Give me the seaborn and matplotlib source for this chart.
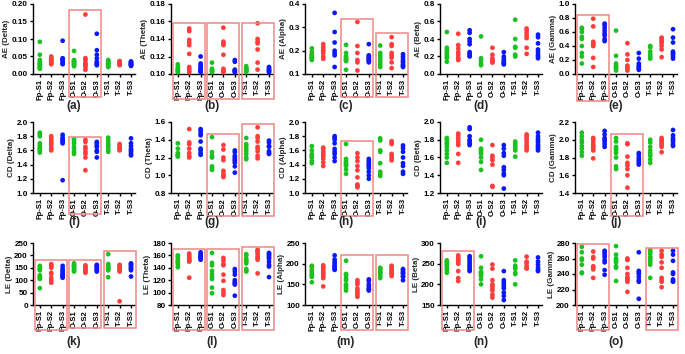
import numpy as np
import pandas as pd
import matplotlib.pyplot as plt
import matplotlib.transforms as mtransforms
from matplotlib.patches import Rectangle
import seaborn as sns

# categories and colours
cats = ['Fp-S1', 'Fp-S2', 'Fp-S3', 'O-S1', 'O-S2', 'O-S3', 'T-S1', 'T-S2', 'T-S3']
palette = ['#19c21f', '#ff3d3d', '#0b17ff'] * 3

# ---- row 1: AE ----
ae_delta = [
    [0.092, 0.055, 0.040, 0.035, 0.030, 0.028, 0.025, 0.020, 0.018, 0.015],
    [0.050, 0.045, 0.042, 0.040, 0.038, 0.035, 0.032, 0.030, 0.028],
    [0.095, 0.045, 0.042, 0.040, 0.035, 0.030, 0.028],
    [0.066, 0.040, 0.038, 0.035, 0.033, 0.030, 0.028, 0.025, 0.022],
    [0.170, 0.045, 0.040, 0.032, 0.028, 0.025, 0.020, 0.012],
    [0.115, 0.068, 0.055, 0.045, 0.035, 0.030, 0.028, 0.025],
    [0.040, 0.037, 0.035, 0.032, 0.030, 0.028, 0.025, 0.022, 0.020],
    [0.037, 0.035, 0.033, 0.030, 0.028, 0.027, 0.025],
    [0.036, 0.034, 0.032, 0.030, 0.028, 0.027, 0.025, 0.023],
]
ae_theta = [
    [0.111, 0.108, 0.106, 0.105, 0.104, 0.103, 0.102],
    [0.152, 0.149, 0.139, 0.136, 0.133, 0.123, 0.108, 0.106, 0.104, 0.102],
    [0.120, 0.112, 0.110, 0.108, 0.106, 0.105, 0.104, 0.103, 0.102],
    [0.113, 0.106, 0.105, 0.104, 0.103, 0.102],
    [0.153, 0.137, 0.135, 0.133, 0.122, 0.106, 0.104, 0.103, 0.102],
    [0.116, 0.114, 0.105, 0.104, 0.103, 0.102],
    [0.109, 0.107, 0.106, 0.105, 0.104, 0.103, 0.102],
    [0.158, 0.140, 0.137, 0.135, 0.128, 0.113, 0.105],
    [0.108, 0.106, 0.105, 0.104, 0.103, 0.102],
]
ae_alpha = [
    [0.210, 0.195, 0.185, 0.180, 0.175, 0.170, 0.165, 0.160],
    [0.228, 0.215, 0.205, 0.200, 0.190, 0.175, 0.165],
    [0.362, 0.280, 0.235, 0.200, 0.190, 0.180, 0.130],
    [0.225, 0.190, 0.175, 0.170, 0.165, 0.160, 0.155, 0.118],
    [0.323, 0.220, 0.190, 0.160, 0.150, 0.115],
    [0.228, 0.180, 0.175, 0.170, 0.165, 0.160, 0.155, 0.150],
    [0.222, 0.190, 0.180, 0.170, 0.160, 0.150, 0.140, 0.130],
    [0.258, 0.228, 0.220, 0.190, 0.180, 0.170, 0.150, 0.125],
    [0.185, 0.175, 0.165, 0.155, 0.150, 0.140, 0.135, 0.130],
]
ae_beta = [
    [0.48, 0.30, 0.27, 0.24, 0.22, 0.20, 0.18, 0.14],
    [0.46, 0.33, 0.29, 0.25, 0.22, 0.19, 0.17, 0.16],
    [0.50, 0.47, 0.40, 0.37, 0.34, 0.25, 0.23, 0.21, 0.20],
    [0.43, 0.18, 0.15, 0.12, 0.10],
    [0.30, 0.22, 0.18, 0.16, 0.14, 0.13],
    [0.25, 0.20, 0.17, 0.15, 0.13, 0.12, 0.11],
    [0.62, 0.40, 0.31, 0.30, 0.22, 0.20],
    [0.52, 0.50, 0.47, 0.44, 0.41, 0.30, 0.23],
    [0.45, 0.42, 0.35, 0.28, 0.25, 0.22, 0.20, 0.18],
]
ae_gamma = [
    [0.66, 0.64, 0.60, 0.53, 0.50, 0.40, 0.30, 0.25, 0.15],
    [0.79, 0.68, 0.46, 0.44, 0.42, 0.40, 0.23, 0.10],
    [0.72, 0.70, 0.66, 0.62, 0.58, 0.55, 0.50, 0.47],
    [0.62, 0.26, 0.15, 0.12, 0.10, 0.08, 0.05],
    [0.44, 0.28, 0.20, 0.12, 0.10, 0.08, 0.05],
    [0.30, 0.22, 0.15, 0.12, 0.10, 0.08, 0.06],
    [0.40, 0.38, 0.32, 0.28, 0.25, 0.22],
    [0.52, 0.50, 0.47, 0.44, 0.40, 0.35, 0.24],
    [0.64, 0.52, 0.45, 0.32, 0.30, 0.28, 0.25, 0.22],
]

# ---- row 2: CD ----
cd_delta = [
    [1.85, 1.83, 1.80, 1.70, 1.67, 1.64, 1.62, 1.60, 1.57],
    [1.80, 1.78, 1.75, 1.72, 1.70, 1.67, 1.63, 1.60],
    [1.82, 1.78, 1.76, 1.74, 1.72, 1.70, 1.18],
    [1.76, 1.74, 1.70, 1.65, 1.62, 1.58, 1.55],
    [1.75, 1.72, 1.65, 1.62, 1.58, 1.55, 1.50, 1.32],
    [1.72, 1.70, 1.67, 1.65, 1.60, 1.58, 1.50],
    [1.78, 1.74, 1.70, 1.67, 1.64, 1.60, 1.58],
    [1.69, 1.67, 1.65, 1.63, 1.62, 1.60],
    [1.77, 1.70, 1.66, 1.62, 1.60, 1.58, 1.55, 1.53],
]
cd_theta = [
    [1.36, 1.30, 1.25, 1.23, 1.22, 1.21],
    [1.52, 1.37, 1.35, 1.30, 1.25, 1.22, 1.20],
    [1.52, 1.50, 1.47, 1.45, 1.38, 1.30, 1.28, 1.25, 1.23],
    [1.43, 1.26, 1.22, 1.20, 1.10, 1.08, 1.06],
    [1.34, 1.29, 1.20, 1.17, 1.05, 1.02, 1.00, 0.98],
    [1.28, 1.26, 1.22, 1.20, 1.18, 1.16, 1.14, 1.10, 1.03],
    [1.42, 1.35, 1.33, 1.30, 1.27, 1.24, 1.20, 1.18],
    [1.54, 1.44, 1.42, 1.38, 1.32, 1.30, 1.27, 1.22, 1.19],
    [1.39, 1.37, 1.33, 1.32, 1.27, 1.25, 1.24],
]
cd_alpha = [
    [1.66, 1.60, 1.55, 1.52, 1.50, 1.45, 1.42],
    [1.64, 1.62, 1.58, 1.55, 1.52, 1.48, 1.43, 1.38],
    [1.80, 1.78, 1.75, 1.70, 1.62, 1.58, 1.55, 1.50, 1.45],
    [1.69, 1.48, 1.45, 1.42, 1.40, 1.38, 1.33, 1.27],
    [1.56, 1.50, 1.45, 1.38, 1.32, 1.22, 1.12, 1.10, 1.08],
    [1.48, 1.45, 1.42, 1.40, 1.38, 1.35, 1.30, 1.25, 1.20],
    [1.77, 1.74, 1.60, 1.58, 1.42, 1.30, 1.27, 1.24],
    [1.73, 1.71, 1.69, 1.55, 1.52, 1.49, 1.46],
    [1.67, 1.63, 1.58, 1.50, 1.42, 1.38, 1.30, 1.27],
]
cd_beta = [
    [1.82, 1.80, 1.77, 1.75, 1.72, 1.68, 1.64, 1.60, 1.54],
    [1.87, 1.85, 1.82, 1.80, 1.77, 1.74, 1.64, 1.54],
    [1.94, 1.92, 1.84, 1.80, 1.78, 1.76, 1.74],
    [1.80, 1.70, 1.68, 1.66, 1.64, 1.60, 1.55, 1.46],
    [1.74, 1.62, 1.60, 1.57, 1.52, 1.28, 1.27],
    [1.74, 1.70, 1.65, 1.62, 1.49, 1.46, 1.42, 1.40, 1.25],
    [1.78, 1.76, 1.74, 1.72, 1.70, 1.68, 1.61],
    [1.86, 1.84, 1.82, 1.80, 1.77, 1.74, 1.72, 1.70, 1.68],
    [1.88, 1.84, 1.81, 1.79, 1.77, 1.74, 1.72, 1.70, 1.68],
]
cd_gamma = [
    [2.08, 2.04, 2.00, 1.97, 1.93, 1.90, 1.86, 1.82],
    [2.02, 2.00, 1.97, 1.94, 1.92, 1.90, 1.88, 1.79],
    [2.10, 2.06, 2.02, 2.00, 1.98, 1.95, 1.92],
    [2.02, 1.98, 1.92, 1.90, 1.88, 1.85, 1.80, 1.70, 1.67],
    [1.96, 1.95, 1.81, 1.74, 1.71, 1.67, 1.60, 1.46],
    [1.85, 1.83, 1.80, 1.78, 1.76, 1.74, 1.72],
    [2.00, 1.97, 1.92, 1.88, 1.85, 1.82, 1.78, 1.74],
    [2.02, 2.00, 1.98, 1.96, 1.94, 1.92, 1.86],
    [2.11, 2.05, 2.02, 2.00, 1.98, 1.95, 1.93],
]

# ---- row 3: LE ----
le_delta = [
    [158, 150, 145, 140, 120, 115, 110, 105, 68],
    [165, 160, 155, 150, 130, 125, 110, 100, 90],
    [158, 148, 140, 132, 125, 120, 115, 110],
    [168, 162, 158, 155, 150, 145, 140, 135],
    [160, 155, 150, 145, 140, 135, 130],
    [162, 158, 155, 150, 145, 140, 135],
    [205, 165, 158, 152, 148, 145, 140, 112],
    [162, 158, 155, 150, 145, 140, 135, 15],
    [168, 165, 160, 155, 150, 145, 140, 115],
]
le_theta = [
    [160, 158, 155, 152, 150, 148, 145, 141],
    [163, 160, 157, 155, 153, 151, 150, 124],
    [165, 162, 160, 158, 157, 155, 153],
    [164, 148, 144, 135, 130, 126, 122, 108, 99],
    [156, 152, 146, 144, 129, 119, 104, 100, 96],
    [138, 134, 129, 120, 117, 115, 113, 95],
    [162, 160, 155, 152, 150, 147, 138, 136, 134],
    [169, 167, 165, 162, 158, 155, 153, 131],
    [164, 162, 160, 157, 155, 150, 145, 142, 125],
]
le_alpha = [
    [195, 192, 185, 180, 175, 172, 168, 155],
    [196, 192, 188, 182, 178, 175, 170, 165, 145],
    [220, 210, 205, 200, 195, 192, 188, 185],
    [207, 175, 172, 165, 160, 150, 145, 140, 135],
    [160, 155, 150, 140, 135, 130, 125, 120],
    [162, 158, 150, 145, 140, 138, 135],
    [190, 188, 185, 180, 178, 175, 170, 165],
    [195, 192, 188, 185, 182, 178, 175, 170],
    [187, 185, 180, 178, 175, 170, 168, 160],
]
le_beta = [
    [258, 255, 252, 248, 245, 240, 235, 228],
    [270, 265, 262, 258, 255, 250, 232, 215, 208],
    [268, 265, 260, 255, 250, 245, 240, 235, 232],
    [268, 240, 230, 228, 225, 220, 212, 200],
    [248, 238, 210, 200, 195, 190, 185, 175, 168],
    [232, 210, 205, 200, 195, 190, 180, 172, 162],
    [258, 245, 240, 238, 228, 225, 200],
    [267, 255, 252, 245, 240, 238],
    [265, 255, 248, 240, 235, 232],
]
le_gamma = [
    [275, 268, 260, 258, 252, 242, 241],
    [269, 262, 260, 250, 248, 246, 235],
    [270, 268, 265, 262, 258, 255, 245, 239],
    [276, 265, 260, 258, 255, 250, 248, 231],
    [260, 258, 248, 240, 236, 234, 232, 230, 217],
    [268, 244, 242, 240, 236, 232, 230, 208],
    [271, 269, 266, 262, 260, 258, 255, 252, 235],
    [270, 265, 262, 255, 248, 235, 232, 230, 223],
    [270, 265, 257, 242, 240, 233, 231, 230],
]

# y tick labels for each panel
ticks_ae = [['0.00', '0.05', '0.10', '0.15', '0.20'],
            ['0.10', '0.12', '0.14', '0.16', '0.18'],
            ['0.1', '0.2', '0.3', '0.4'],
            ['0.0', '0.2', '0.4', '0.6', '0.8'],
            ['0.0', '0.2', '0.4', '0.6', '0.8', '1.0']]
ticks_cd = [['1.0', '1.2', '1.4', '1.6', '1.8', '2.0'],
            ['0.8', '1.0', '1.2', '1.4', '1.6'],
            ['1.0', '1.2', '1.4', '1.6', '1.8', '2.0'],
            ['1.2', '1.4', '1.6', '1.8', '2.0'],
            ['1.4', '1.6', '1.8', '2.0', '2.2']]
ticks_le = [['0', '50', '100', '150', '200', '250'],
            ['80', '100', '120', '140', '160', '180'],
            ['100', '150', '200', '250'],
            ['150', '200', '250', '300'],
            ['200', '220', '240', '260', '280']]

bands = ['Delta', 'Theta', 'Alpha', 'Beta', 'Gamma']
rows = [('AE', [ae_delta, ae_theta, ae_alpha, ae_beta, ae_gamma], ticks_ae),
        ('CD', [cd_delta, cd_theta, cd_alpha, cd_beta, cd_gamma], ticks_cd),
        ('LE', [le_delta, le_theta, le_alpha, le_beta, le_gamma], ticks_le)]
letters = 'abcdefghijklmno'

# red frames: (first cat, last cat, top, bottom) in axes fraction
frames = {
    'a': [(3, 5, 0.91, -0.33)],
    'b': [(0, 2, 0.73, -0.36), (3, 5, 0.73, -0.36), (6, 8, 0.73, -0.36)],
    'c': [(3, 5, 0.79, -0.33), (6, 8, 0.59, -0.33)],
    'e': [(0, 2, 0.84, -0.39)],
    'f': [(3, 5, 0.79, -0.30)],
    'g': [(3, 5, 0.83, -0.32), (6, 8, 0.97, -0.32)],
    'h': [(3, 5, 0.73, -0.32)],
    'j': [(3, 5, 0.83, -0.32)],
    'k': [(0, 2, 0.73, -0.40), (3, 5, 0.73, -0.37), (6, 8, 0.87, -0.37)],
    'l': [(0, 2, 0.91, -0.40), (3, 5, 0.91, -0.40), (6, 8, 0.93, -0.40)],
    'm': [(3, 5, 0.80, -0.40), (6, 8, 0.80, -0.40)],
    'n': [(0, 2, 0.87, -0.40)],
    'o': [(0, 2, 0.99, -0.40), (6, 8, 0.92, -0.40)],
}

sns.set_style('ticks')
plt.rcParams['font.family'] = ['Liberation Sans', 'DejaVu Sans']
plt.rcParams['font.weight'] = 'bold'

W, H = 685, 354
fig = plt.figure(figsize=(W / 100, H / 100), dpi=100)

lefts = [33, 171, 305, 440, 575]
width = 102
tops = [4, 122, 243]
heights = [70, 71, 62]
label_y = [106, 222, 342]

for r, (meas, panels, ticks) in enumerate(rows):
    for c in range(5):
        letter = letters[r * 5 + c]
        ax = fig.add_axes([lefts[c] / W, 1 - (tops[r] + heights[r]) / H,
                           width / W, heights[r] / H])
        vals = panels[c]
        df = pd.DataFrame({'cat': [cats[i] for i, v in enumerate(vals) for _ in v],
                           'val': [x for v in vals for x in v]})
        sns.stripplot(data=df, x='cat', y='val', hue='cat', order=cats, hue_order=cats,
                      palette=palette, jitter=False, size=3.4, linewidth=0,
                      legend=False, ax=ax, clip_on=False, zorder=3)
        tk = [float(t) for t in ticks[c]]
        ax.set_ylim(tk[0], tk[-1])
        ax.set_yticks(tk)
        ax.set_yticklabels(ticks[c], fontsize=5.8, fontweight='bold')
        ax.set_xlim(-0.6, 8.35)
        ax.set_xticks(range(9))
        ax.set_xticklabels(cats, rotation=90, fontsize=5.5, fontweight='bold')
        ax.set_xlabel('')
        ax.set_ylabel(f'{meas} ({bands[c]})', fontsize=5.8, fontweight='bold', labelpad=1)
        sns.despine(ax=ax)
        for s in ['left', 'bottom']:
            ax.spines[s].set_linewidth(1.0)
            ax.spines[s].set_color('black')
        ax.tick_params(length=2.5, width=1.0, pad=1.2, colors='black')

        trans = mtransforms.blended_transform_factory(ax.transData, ax.transAxes)
        for (c0, c1, top, bot) in frames.get(letter, []):
            ax.add_patch(Rectangle((c0 - 0.4, bot), (c1 - c0) + 0.8, top - bot,
                                   transform=trans, fill=False, edgecolor='#f08585',
                                   linewidth=1.1, clip_on=False, zorder=5))

        fig.text((lefts[c] + width / 2 - 10) / W, 1 - label_y[r] / H, f'({letter})',
                 ha='center', va='center', fontsize=8.5, fontweight='bold')

fig.savefig('out.png', dpi=100)
